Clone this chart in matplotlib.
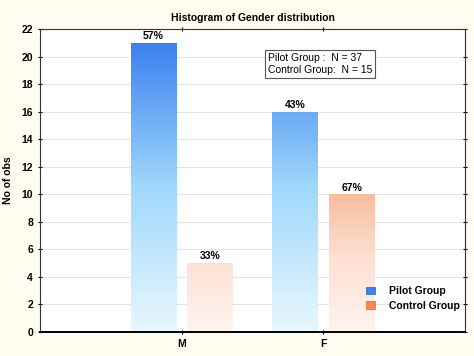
import numpy as np
import matplotlib
matplotlib.use("Agg")
import matplotlib.pyplot as plt
from matplotlib.colors import LinearSegmentedColormap
from matplotlib.patches import Patch

categories = ["M", "F"]
pilot = [21, 16]
control = [5, 10]
pilot_pct = ["57%", "43%"]
control_pct = ["33%", "67%"]

BG = "#fffcf0"
plt.rcParams["font.family"] = ["Liberation Sans", "DejaVu Sans"]

fig = plt.figure(figsize=(4.74, 3.56), dpi=100, facecolor=BG)
ax = fig.add_axes([0.0844, 0.0674, 0.8966, 0.8511])
ax.set_facecolor("white")

x = np.arange(1, len(categories) + 1)
w = 0.32
off = 0.2

pilot_cmap = LinearSegmentedColormap.from_list("p", ["#e8f8ff", "#9fd8fb", "#3c80f0"])
ctrl_cmap = LinearSegmentedColormap.from_list("c", ["#fff4ef", "#fde0d2", "#f8b690"])

grad = np.linspace(0, 1, 256).reshape(-1, 1)


def grad_bars(xs, vals, cmap, top):
    # transparent bars, then a vertical gradient clipped to each bar
    bars = ax.bar(xs, vals, w, color="none", edgecolor="none", zorder=3)
    for b in bars:
        x0 = b.get_x()
        im = ax.imshow(grad, cmap=cmap, aspect="auto", origin="lower",
                       extent=[x0, x0 + b.get_width(), 0, top], zorder=3,
                       vmin=0, vmax=1)
        im.set_clip_path(b)
    return bars


bp = grad_bars(x - off, pilot, pilot_cmap, 21)
bc = grad_bars(x + off, control, ctrl_cmap, 11)

for b, t in zip(list(bp) + list(bc), pilot_pct + control_pct):
    ax.text(b.get_x() + b.get_width() / 2, b.get_height() + 0.12, t,
            ha="center", va="bottom", fontsize=7.5, fontweight="bold")

ax.set_xlim(0, 3)
ax.set_ylim(0, 22)
ax.set_yticks(range(0, 23, 2))
ax.set_xticks(x)
ax.set_xticklabels(categories)
ax.grid(axis="y", color="#e3e3e3", lw=0.8, zorder=0)
ax.set_axisbelow(True)
ax.tick_params(axis="both", labelsize=7.5, length=3, direction="inout",
               right=True, top=True, width=0.8)
for lbl in ax.get_xticklabels() + ax.get_yticklabels():
    lbl.set_fontweight("bold")
for s in ax.spines.values():
    s.set_color("#333333")
    s.set_linewidth(0.8)
ax.spines["bottom"].set_linewidth(1.4)
ax.spines["bottom"].set_color("black")
ax.spines["bottom"].set_zorder(4)

ax.set_ylabel("No of obs", fontsize=7.5, fontweight="bold", labelpad=6)
ax.set_title("Histogram of Gender distribution", fontsize=7.5,
             fontweight="bold", pad=6)

ax.text(0.536, 0.885, "Pilot Group :  N = 37\nControl Group:  N = 15",
        transform=ax.transAxes, fontsize=7.5, va="center", ha="left",
        linespacing=1.25,
        bbox=dict(boxstyle="square,pad=0.3", facecolor="white",
                  edgecolor="#555555", lw=0.8), zorder=5)

handles = [Patch(facecolor="#3c80f0", edgecolor="#2a5fc0", lw=0.5),
           Patch(facecolor="#f58a4a", edgecolor="#d0703a", lw=0.5)]
ax.legend(handles, ["Pilot Group", "Control Group"], loc="lower right",
          bbox_to_anchor=(1.01, 0.04), frameon=False,
          prop={"size": 7.5, "weight": "bold"}, handlelength=0.9,
          handleheight=0.7, handletextpad=1.3, labelspacing=0.45)

fig.savefig("out.png", dpi=100, facecolor=BG)
